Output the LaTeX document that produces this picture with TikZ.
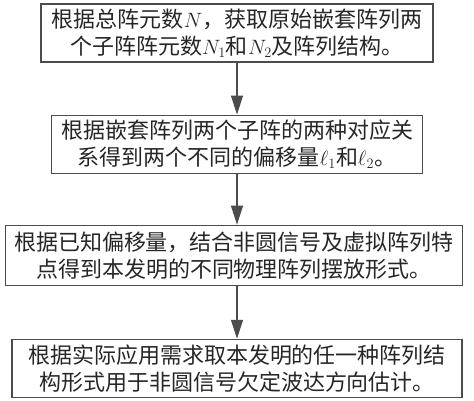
\documentclass[tikz,border=0pt]{standalone}
\usepackage{amsmath}
\usepackage{fontspec}
\newfontfamily\cjk{Noto Sans CJK SC}
\usepackage{tikz}
\usetikzlibrary{arrows.meta, positioning}
\tikzset{
    procbox/.style={
      draw=black!70, %box border
      line width=1.1pt,
      align=center,
      inner sep=0pt,
      font=\fontsize{22}{27}\selectfont\cjk,
      text=black!85,
    },
    flow/.style={
      -{Triangle[length=19pt, width=12pt]}, %filled head
      draw=black!70,
      line width=1.1pt,
    }
  }
\begin{document}
\begin{tikzpicture}[node distance=52pt]
          \useasboundingbox (0,0) rectangle (474pt,-400pt);
          \node[procbox, minimum width=392pt, minimum height=58pt] (1) at (237pt,-33pt)
            {根据总阵元数$N$，获取原始嵌套阵列两\\个子阵阵元数$N_1$和$N_2$及阵列结构。};
          \node[procbox, minimum width=371pt, minimum height=58pt, below=of 1] (2)
            {根据嵌套阵列两个子阵的两种对应关\\系得到两个不同的偏移量$\ell_1$和$\ell_2$。};
          \node[procbox, minimum width=457pt, minimum height=60pt, below=51pt of 2, xshift=-3pt] (3)
            {根据已知偏移量，结合非圆信号及虚拟阵列特\\点得到本发明的不同物理阵列摆放形式。};
          \node[procbox, minimum width=450pt, minimum height=58pt, below=53pt of 3, xshift=3pt] (4)
            {根据实际应用需求取本发明的任一种阵列结\\构形式用于非圆信号欠定波达方向估计。};
    
          \draw[flow] (1.south) -- (2.north);
          \draw[flow] (2.south) -- (2.south |- 3.north);
          \draw[flow] (2.south |- 3.south) -- (2.south |- 4.north);
        \end{tikzpicture}
\end{document}
